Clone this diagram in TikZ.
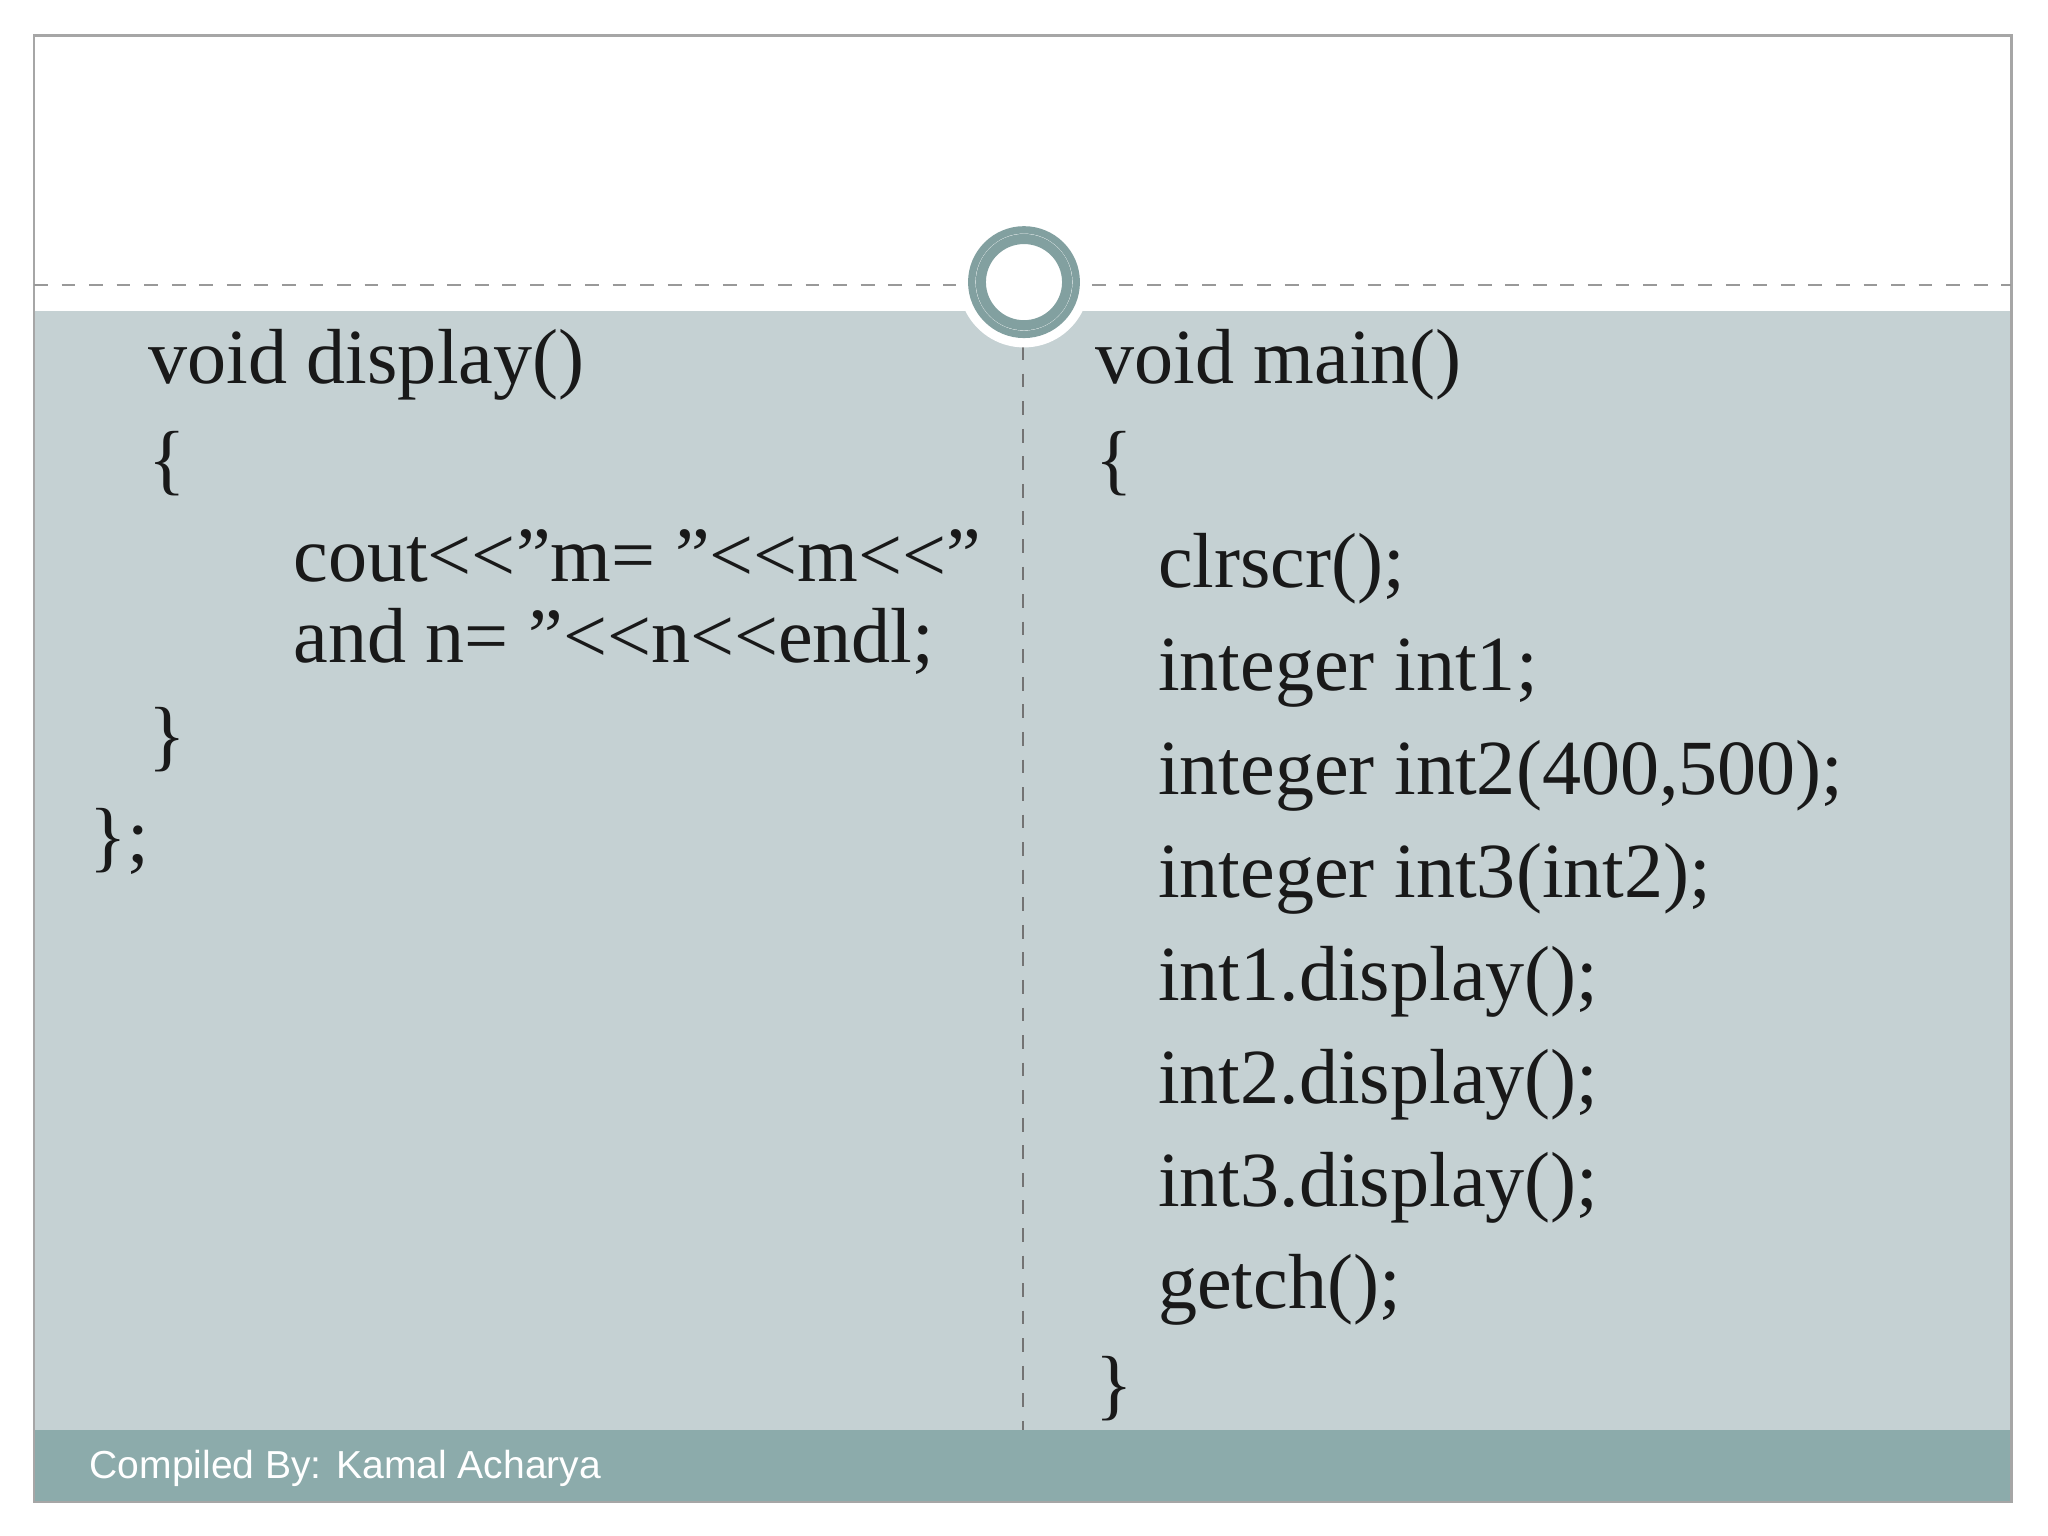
\documentclass[tikz,border=0pt]{standalone}
\usepackage{fontspec}
\setmainfont{Liberation Serif}
\setsansfont{Liberation Sans}
\begin{document}
\begin{tikzpicture}[x=0.01cm,y=-0.01cm,
  code/.style={anchor=base west,inner sep=0,font=\fontsize{17}{20}\selectfont,text=black!90}]
\useasboundingbox (0,0) rectangle (1568,1176);
\fill[white] (0,0) rectangle (1568,1176);
\fill[fill={rgb,255:red,197;green,209;blue,211}] (26,238) rectangle (1540,1095);
\fill[fill={rgb,255:red,140;green,171;blue,171}] (26,1095) rectangle (1540,1150);
\draw[gray!70,line width=0.6pt] (26,27) rectangle (1540,1150);
\draw[gray!80,dashed,line width=0.4pt] (26,218) -- (732,218);
\draw[gray!80,dashed,line width=0.4pt] (836,218) -- (1540,218);
\draw[gray!90!black,dashed,line width=0.4pt] (783,265) -- (783,1095);
\fill[white] (784,216) circle (50);
\node[circle,draw={rgb,255:red,130;green,160;blue,160},line width=1.6pt,minimum size=0.8cm,inner sep=0,fill=white] (c) at (784,216) {};
\node[circle,draw={rgb,255:red,130;green,160;blue,160},line width=2.2pt,minimum size=0.66cm,inner sep=0] (c2) at (784,216) {};
\node[code] (l1) at (113,294) {void display()};
\node[code] (l2) at (113,372) {\{};
\node[code] (l3) at (224,445) {cout<{}<"m= "<{}<m<{}<"};
\node[code] (l4) at (224,507) {and n= "<{}<n<{}<endl;};
\node[code] (l5) at (113,583) {\}};
\node[code] (l6) at (68,660) {\};};
\node[code] (r1) at (838,294) {void main()};
\node[code] (r2) at (838,372) {\{};
\node[code] (r3) at (886,450) {clrscr();};
\node[code] (r4) at (886,529) {integer int1;};
\node[code] (r5) at (886,608) {integer int2(400,500);};
\node[code] (r6) at (886,687) {integer int3(int2);};
\node[code] (r7) at (886,766) {int1.display();};
\node[code] (r8) at (886,845) {int2.display();};
\node[code] (r9) at (886,924) {int3.display();};
\node[code] (r10) at (886,1002) {getch();};
\node[code] (r11) at (838,1080) {\}};
\node[anchor=base west,inner sep=0,text=white,font=\sffamily\fontsize{8.5}{10}\selectfont] (f) at (68,1132) {Compiled By: Kamal Acharya};
\end{tikzpicture}
\end{document}
